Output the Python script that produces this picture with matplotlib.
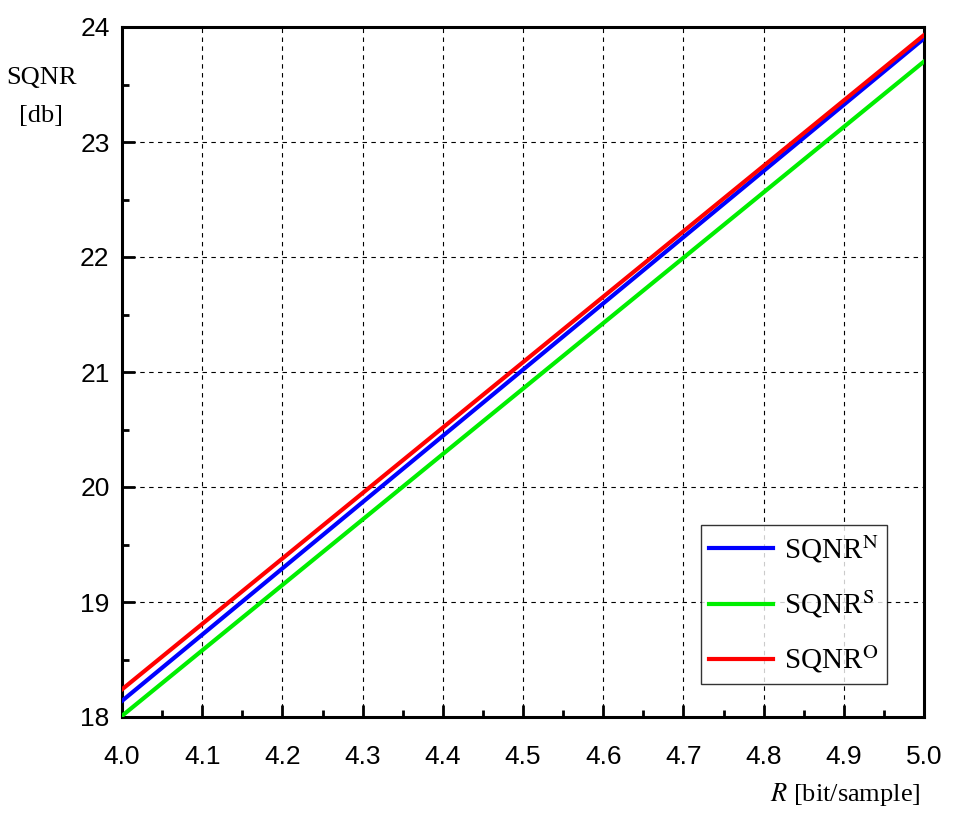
import numpy as np
import matplotlib.pyplot as plt
from matplotlib.ticker import MultipleLocator

plt.rcParams['mathtext.fontset'] = 'stix'

# endpoints (the curves are straight lines)
rate = [4.0, 5.0]
sqnr_n = [18.14, 23.90]
sqnr_s = [18.01, 23.70]
sqnr_o = [18.24, 23.93]

fig = plt.figure(figsize=(9.57, 8.24), dpi=100)
ax = fig.add_axes([122 / 957, 1 - 717 / 824, (924 - 122) / 957, (717 - 27) / 824])

ax.plot(rate, sqnr_n, color='#0000ff', lw=3, label=r'SQNR$^{\mathrm{N}}$', zorder=3)
ax.plot(rate, sqnr_s, color='#00ee00', lw=3, label=r'SQNR$^{\mathrm{S}}$', zorder=3)
ax.plot(rate, sqnr_o, color='#ff0000', lw=3, label=r'SQNR$^{\mathrm{O}}$', zorder=4)

ax.set_xlim(4.0, 5.0)
ax.set_ylim(18, 24)
ax.xaxis.set_major_locator(MultipleLocator(0.1))
ax.xaxis.set_minor_locator(MultipleLocator(0.05))
ax.yaxis.set_major_locator(MultipleLocator(1))
ax.yaxis.set_minor_locator(MultipleLocator(0.5))
ax.xaxis.set_major_formatter(plt.FormatStrFormatter('%.1f'))

ax.tick_params(which='both', direction='in', width=2, labelsize=19,
               labelfontfamily='Liberation Sans')
ax.tick_params(which='major', length=9)
ax.tick_params(which='minor', length=5)
ax.tick_params(axis='x', pad=20)
ax.tick_params(axis='y', pad=9)
for s in ax.spines.values():
    s.set_linewidth(2.2)

ax.grid(True, which='major', color='black', lw=0.8, ls=(0, (4, 4)))

leg = ax.legend(loc='lower right', bbox_to_anchor=(887 / 957, 1 - 684 / 824),
                bbox_transform=fig.transFigure,
                prop={'family': 'Liberation Serif', 'size': 21},
                frameon=True, fancybox=False, edgecolor='black',
                handlelength=2.2, labelspacing=0.8, borderpad=0.3,
                handletextpad=0.35, borderaxespad=0)
leg.get_frame().set_linewidth(1.0)

fig.text(41 / 957, 1 - 97 / 824, 'SQNR\n[db]', ha='center', va='center',
         family='Liberation Serif', fontsize=19, linespacing=2.0)
fig.text(920 / 957, 1 - 794 / 824, r'$\it{R}$ [bit/sample]', ha='right', va='center',
         family='Liberation Serif', fontsize=19)

fig.savefig('out.png', dpi=100)
